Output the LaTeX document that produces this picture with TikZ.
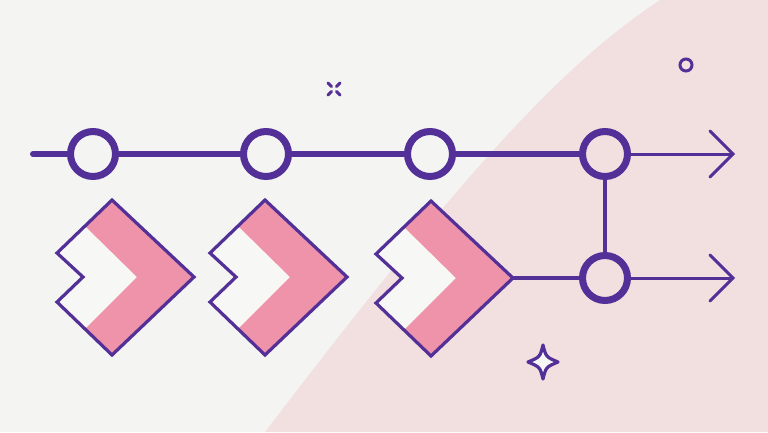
\documentclass[tikz,border=0pt]{standalone}
\usetikzlibrary{arrows.meta,calc}
\definecolor{bgc}{HTML}{F4F4F2}
\definecolor{pinkbg}{HTML}{F2E0E1}
\definecolor{purp}{HTML}{523097}
\definecolor{chevpinkc}{HTML}{EE93AA}
\definecolor{chevwhitec}{HTML}{F7F7F5}
\tikzset{
  ring/.style={circle, draw=purp, line width=7pt, minimum size=45pt, inner sep=0pt},
  thickline/.style={draw=purp, line width=6pt, line cap=round},
  thinline/.style={draw=purp, line width=3.2pt},
  arrowline/.style={draw=purp, line width=3pt, -{Straight Barb[length=23pt,width=46pt,line cap=round,line width=3pt]}},
  outline/.style={draw=purp, line width=3.2pt, line join=miter},
  chev/.pic={
    \fill[chevwhitec] (-55,53) -- (-27,26) -- (25,77) -- (-27,129) -- (-55,102) -- (-29,77) -- cycle;
    \fill[chevpinkc] (-27,26) -- (0,0) -- (82,77) -- (0,155) -- (-27,129) -- (25,77) -- cycle;
    \draw[outline] (0,0) -- (82,77) -- (0,155) -- (-55,102) -- (-29,77) -- (-55,53) -- cycle;
  }
}
\begin{document}
\begin{tikzpicture}[x=1pt,y=-1pt]
\useasboundingbox (0,0) rectangle (768,432);
\fill[bgc] (0,0) rectangle (768,432);
\fill[pinkbg] (660,0) .. controls (570,60) and (480,150) .. (265,432) -- (768,432) -- (768,0) -- cycle;

% diamonds
\pic at (112,200) {chev};
\pic at (265,200) {chev};
\pic at (431,201) {chev};
\coordinate (d3tip) at (513,278);

% circles
\node[ring] (c1) at (93,154) {};
\node[ring] (c2) at (266,154) {};
\node[ring] (c3) at (430,154) {};
\node[ring] (c4) at (605,154) {};
\node[ring] (c5) at (605,278) {};
\coordinate (start) at (33,154);
\coordinate (e1) at (735,154);
\coordinate (e2) at (735,278);

% connectors
\draw[thickline] (start) -- (c1);
\draw[thickline] (c1) -- (c2);
\draw[thickline] (c2) -- (c3);
\draw[thickline] (c3) -- (c4);
\draw[thinline] (c4) -- (c5);
\draw[thinline] (d3tip) -- (c5);
\draw[arrowline] (c4) -- (e1);
\draw[arrowline] (c5) -- (e2);

% small circle
\node[circle, draw=purp, line width=3pt, minimum size=12pt, inner sep=0pt] (sc) at (686,65) {};

% cross
\coordinate (x0) at (334,89);
\foreach \dx/\dy in {1/1,1/-1,-1/1,-1/-1}
  \draw[purp, line width=3pt, line cap=round] ($(x0)+(2.5*\dx,2.5*\dy)$) -- ($(x0)+(6*\dx,6*\dy)$);

% sparkle
\draw[purp, fill=chevwhitec, line width=3.2pt, line join=round]
  (543,345) .. controls (546,357) .. (558,362)
  .. controls (546,367) .. (543,379)
  .. controls (540,367) .. (528,362)
  .. controls (540,357) .. (543,345) -- cycle;
\end{tikzpicture}
\end{document}
